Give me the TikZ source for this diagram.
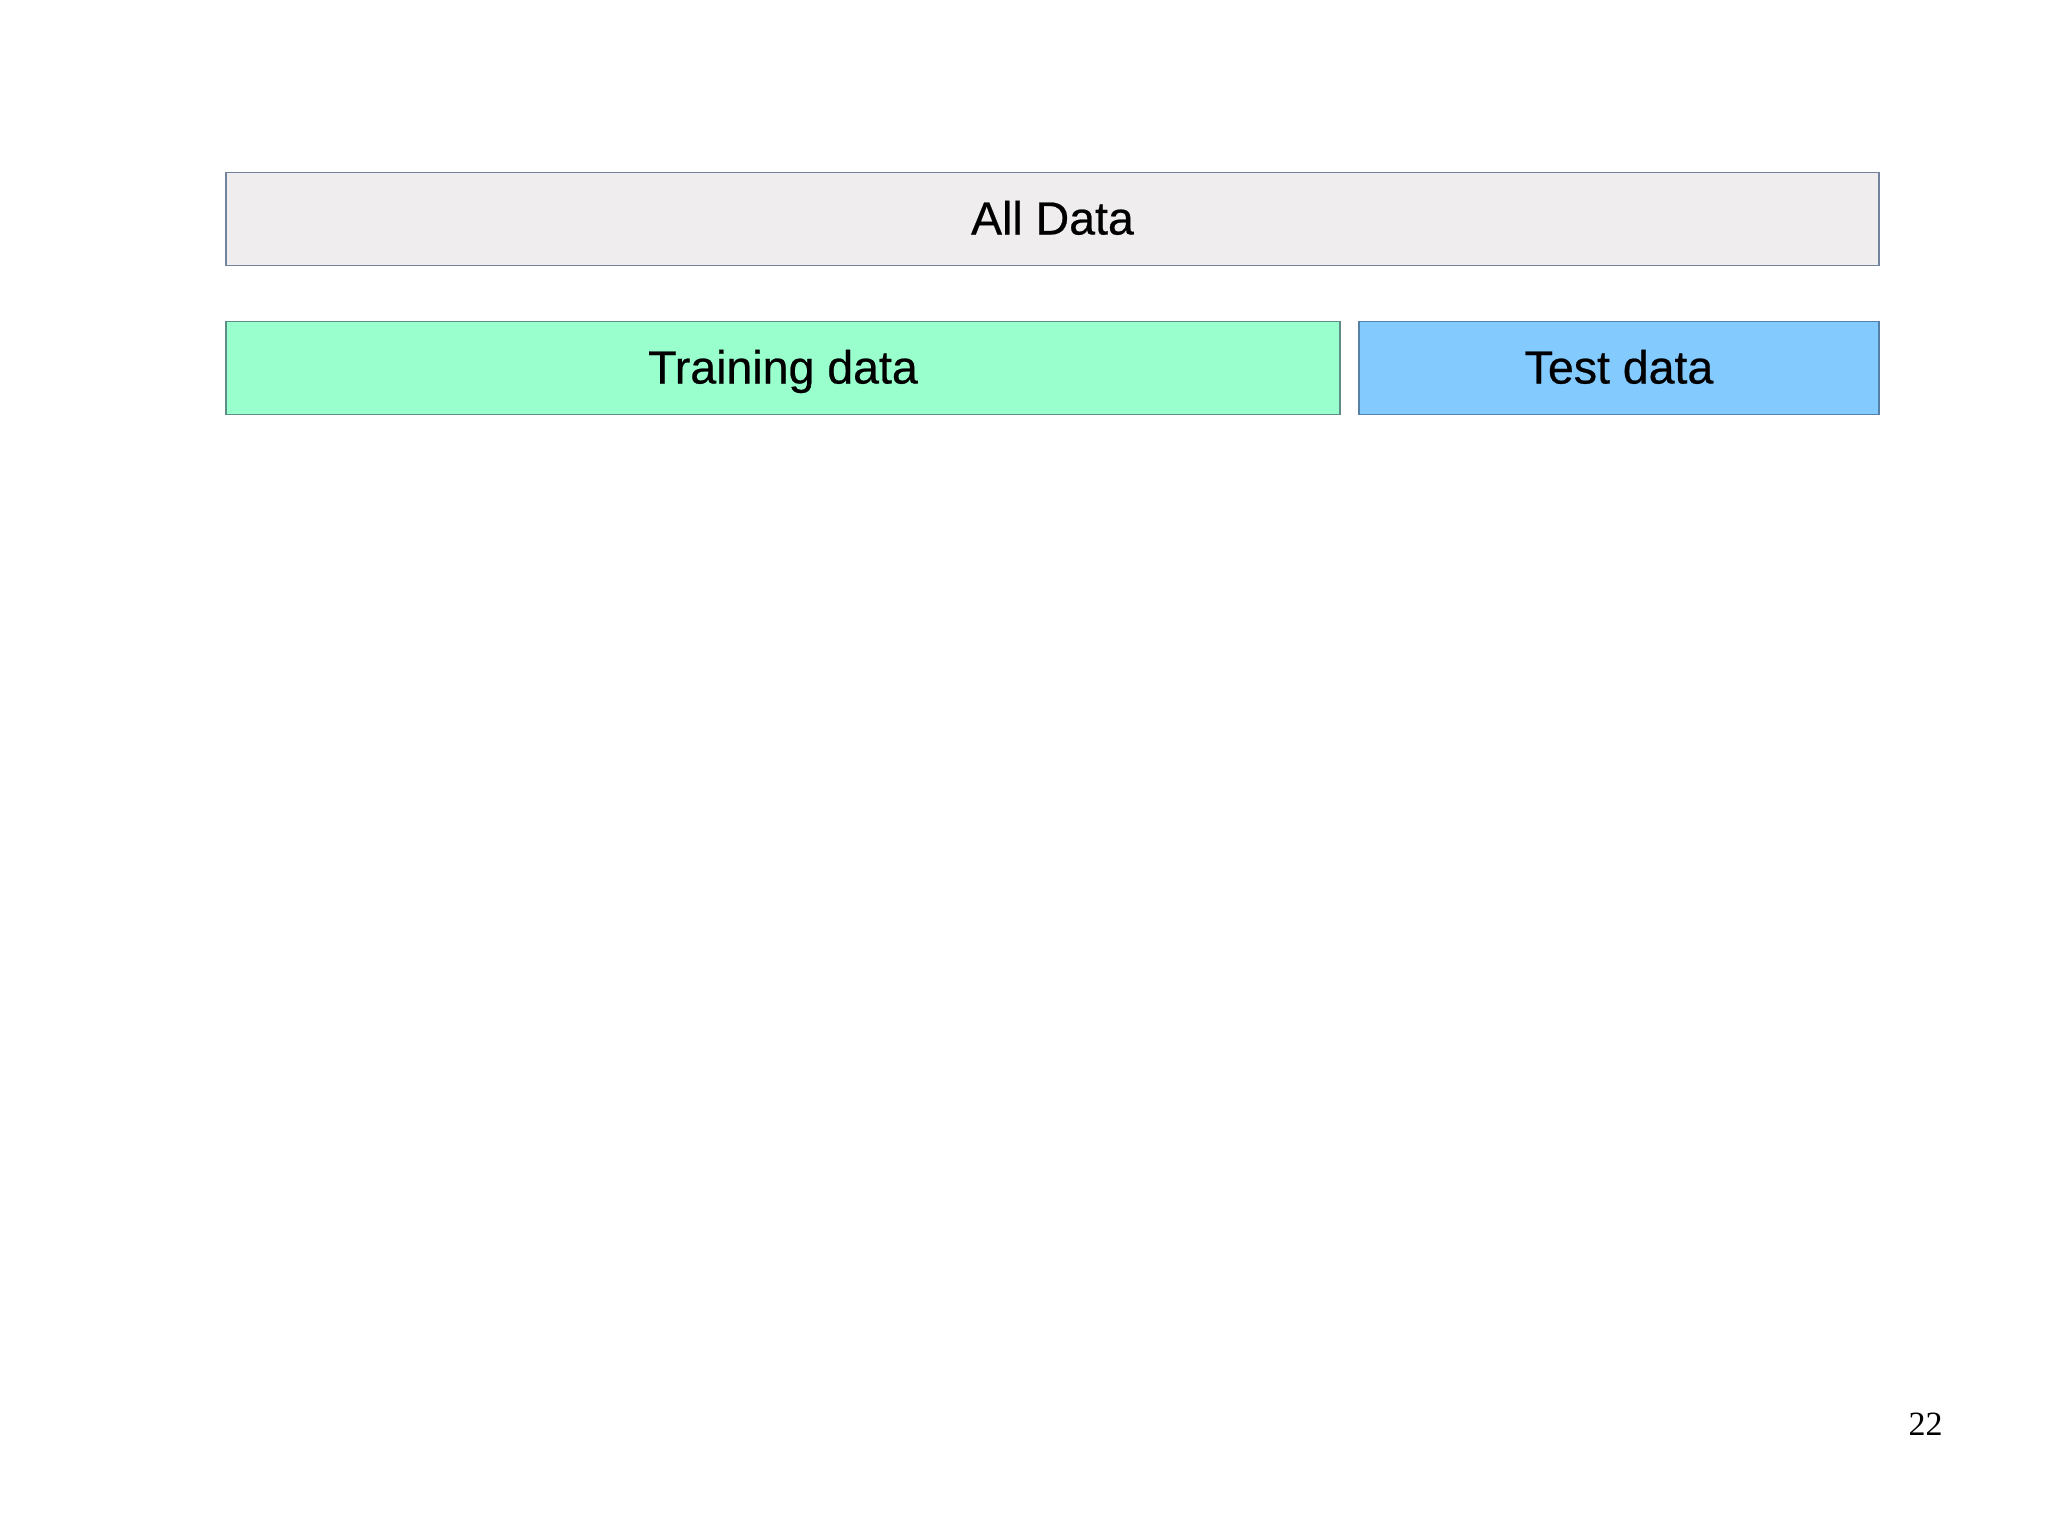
\documentclass[tikz,border=0pt]{standalone}
\usepackage{fontspec}
\setmainfont{Liberation Serif}
\newfontfamily\boxfont[FakeBold=0.5]{Liberation Sans}
\definecolor{allfill}{HTML}{EFEDED}
\definecolor{allline}{HTML}{72839E}
\definecolor{trainfill}{HTML}{99FFCC}
\definecolor{trainline}{HTML}{5E8C86}
\definecolor{testfill}{HTML}{83CAFF}
\definecolor{testline}{HTML}{5680A6}
\begin{document}
\begin{tikzpicture}[x=1pt,y=-1pt,
  databox/.style={draw=#1, line width=1.6pt, inner sep=0pt, outer sep=0pt,
    text height=37pt, text depth=6pt,
    font=\boxfont\fontsize{46.5}{51}\selectfont, text=black}]
\useasboundingbox[fill=white] (0,0) rectangle (2048,1536);
\node[databox=allline, fill=allfill, minimum width=1653pt, minimum height=93pt] (all) at (1052.5,219) {All Data};
\node[databox=trainline, fill=trainfill, minimum width=1114pt, minimum height=93pt] (train) at (783,368) {Training data};
\node[databox=testline, fill=testfill, minimum width=520pt, minimum height=93pt] (test) at (1619,368) {Test data};
\node[font=\fontsize{34}{40}\selectfont, inner sep=0pt, anchor=base] (page) at (1925.5,1435) {22};
\end{tikzpicture}
\end{document}
